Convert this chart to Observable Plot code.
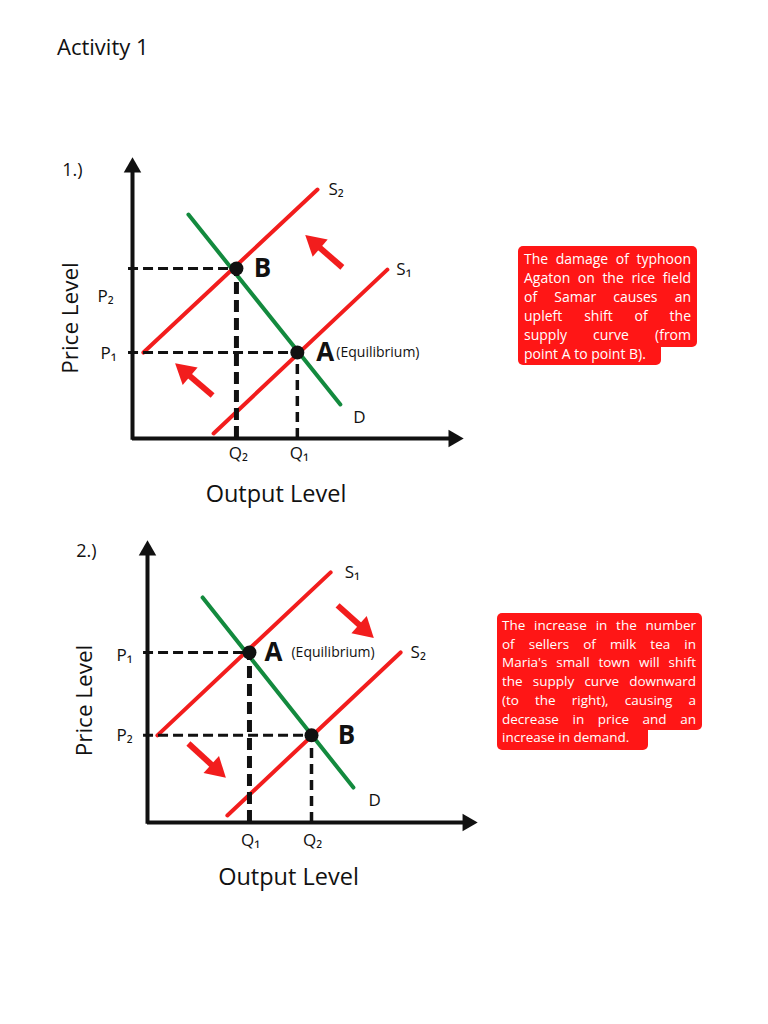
<!DOCTYPE html>
<html>
<head>
<meta charset="utf-8">
<script src="https://cdn.jsdelivr.net/npm/d3@7"></script>
<script src="https://cdn.jsdelivr.net/npm/@observablehq/plot@0.6"></script>
<style>
  body { margin: 0; background: #fff; }
  #page { position: relative; width: 768px; height: 1024px; overflow: hidden; font-family: "Open Sans", sans-serif; color: #111; }
  .title { position: absolute; left: 57px; top: 31px; font-size: 22px; }
  .chart { position: absolute; }
  .box { position: absolute; }
  .box .bg { position: absolute; background: #ff1616; }
  .box .txt { position: absolute; color: #fff; }
  .box .ln { text-align: justify; text-align-last: justify; white-space: nowrap; }
  .box .ln.last { text-align: left; text-align-last: left; }
</style>
</head>
<body>
<div id="page">
  <div class="title">Activity 1</div>
  <div class="chart" id="chart1" style="left:40px;top:140px;"></div>
  <div class="chart" id="chart2" style="left:50px;top:525px;"></div>

  <div class="box" style="left:518px;top:246px;">
    <div class="bg" style="left:0;top:0;width:179px;height:101px;border-radius:5px 5px 5px 0;"></div>
    <div class="bg" style="left:0;top:94px;width:143px;height:25px;border-radius:0 0 5px 5px;"></div>
    <div class="txt" id="text1" style="left:6px;top:3px;width:167px;font-size:14px;line-height:19px;"></div>
  </div>

  <div class="box" style="left:497px;top:613px;">
    <div class="bg" style="left:0;top:0;width:205px;height:117px;border-radius:5px 5px 5px 0;"></div>
    <div class="bg" style="left:0;top:110px;width:151px;height:27px;border-radius:0 0 5px 5px;"></div>
    <div class="txt" id="text2" style="left:5px;top:3px;width:194px;font-size:13.5px;line-height:18.7px;"></div>
  </div>
</div>
<script>
// ---------- Diagram 1 data (quantity q, price p) ----------
const d1SupplyOld = [{q: 2.45, p: 0.18}, {q: 7.70, p: 6.01}];   // S1
const d1SupplyNew = [{q: 0.33, p: 3.06}, {q: 5.59, p: 8.86}];   // S2
const d1Demand    = [{q: 1.69, p: 7.97}, {q: 6.28, p: 1.21}];   // D
const d1Points    = [{name: "A", q: 4.98, p: 3.06}, {name: "B", q: 3.14, p: 6.05}];
const d1PriceTicks = [{label: "P₁", p: 3.06}, {label: "P₂", p: 6.05}];
const d1QtyTicks   = [{label: "Q₁", q: 4.98}, {label: "Q₂", q: 3.14}];
const d1Shifts = [
  {q1: 6.34, p1: 6.09, q2: 5.52, p2: 6.93},
  {q1: 2.42, p1: 1.53, q2: 1.59, p2: 2.37}
];
const d1CurveNames = ["S₁", "S₂", "D"];
const d1Text = [
  "The damage of typhoon",
  "Agaton on the rice field",
  "of Samar causes an",
  "upleft shift of the",
  "supply curve (from",
  "point A to point B)."
];

// ---------- Diagram 2 data ----------
const d2SupplyOld = [{q: 0.30, p: 3.09}, {q: 5.55, p: 8.87}];   // S1
const d2SupplyNew = [{q: 2.42, p: 0.25}, {q: 7.67, p: 6.03}];   // S2
const d2Demand    = [{q: 1.67, p: 7.98}, {q: 6.24, p: 1.24}];   // D
const d2Points    = [{name: "A", q: 3.09, p: 6.03}, {name: "B", q: 4.97, p: 3.09}];
const d2PriceTicks = [{label: "P₁", p: 6.03}, {label: "P₂", p: 3.09}];
const d2QtyTicks   = [{label: "Q₁", q: 3.09}, {label: "Q₂", q: 4.97}];
const d2Shifts = [
  {q1: 5.76, p1: 7.70, q2: 6.56, p2: 6.86},
  {q1: 1.24, p1: 2.80, q2: 2.08, p2: 1.90}
];
const d2CurveNames = ["S₁", "S₂", "D"];
const d2Text = [
  "The increase in the number",
  "of sellers of milk tea in",
  "Maria's small town will shift",
  "the supply curve downward",
  "(to the right), causing a",
  "decrease in price and an",
  "increase in demand."
];

const axisTitles = {y: "Price Level", x: "Output Level"};
const domain = [0, 10];
const axisEnd = {q: 9.7, p: 9.65};

const RED = "#f21d1d", GREEN = "#138a3e", INK = "#111";
const FONT = "Open Sans, sans-serif";

function diagram(c) {
  const sx = Plot.scale({x: {domain, range: [c.ml, c.W - c.mr]}});
  const sy = Plot.scale({y: {domain, range: [c.H - c.mb, c.mt]}});
  const rot = d => Math.atan2(sx.apply(d.q2) - sx.apply(d.q1), -(sy.apply(d.p2) - sy.apply(d.p1))) * 180 / Math.PI;
  const thick = c.points.find(d => d.name === c.thickQ);
  const thin = c.points.find(d => d.name !== c.thickQ);
  const A = c.points.filter(d => d.name === "A");
  const B = c.points.filter(d => d.name === "B");
  const curves = [
    {name: c.names[0], end: c.s1[1], lab: c.lab[0]},
    {name: c.names[1], end: c.s2[1], lab: c.lab[1]},
    {name: c.names[2], end: c.dem[1], lab: c.lab[2]}
  ];
  const txt = {fill: INK, fontFamily: FONT};
  return Plot.plot({
    width: c.W, height: c.H,
    marginLeft: c.ml, marginRight: c.mr, marginTop: c.mt, marginBottom: c.mb,
    x: {domain, axis: null},
    y: {domain, axis: null},
    style: {background: "transparent", overflow: "visible", fontFamily: FONT},
    marks: [
      // supply & demand curves
      Plot.line(c.s1, {x: "q", y: "p", stroke: RED, strokeWidth: 4}),
      Plot.line(c.s2, {x: "q", y: "p", stroke: RED, strokeWidth: 4}),
      Plot.line(c.dem, {x: "q", y: "p", stroke: GREEN, strokeWidth: 4}),
      // dashed guides
      Plot.ruleY(c.points, {y: "p", x1: -0.12, x2: "q", stroke: INK, strokeWidth: 3, strokeDasharray: "10,5"}),
      Plot.ruleX([thick], {x: "q", y1: 0, y2: "p", stroke: INK, strokeWidth: 5, strokeDasharray: "12,6"}),
      Plot.ruleX([thin], {x: "q", y1: 0, y2: "p", stroke: INK, strokeWidth: 3.5, strokeDasharray: "10,6"}),
      // axes with arrow heads
      Plot.ruleY([0], {x1: 0, x2: axisEnd.q, stroke: INK, strokeWidth: 4}),
      Plot.ruleX([0], {y1: -0.06, y2: axisEnd.p, stroke: INK, strokeWidth: 4}),
      Plot.dot([0], {x: axisEnd.q, y: 0, symbol: "triangle", r: 6.5, fill: INK, stroke: "none", rotate: 90}),
      Plot.dot([0], {x: 0, y: axisEnd.p, symbol: "triangle", r: 6.5, fill: INK, stroke: "none"}),
      // shift arrows
      Plot.link(c.shifts, {x1: "q1", y1: "p1", x2: "q2", y2: "p2", stroke: RED, strokeWidth: 6}),
      Plot.dot(c.shifts, {x: "q2", y: "p2", symbol: "triangle", r: 8.5, fill: RED, stroke: "none", rotate: rot}),
      // equilibrium points
      Plot.dot(c.points, {x: "q", y: "p", r: 7, fill: INK}),
      Plot.text(A, {x: "q", y: "p", text: "name", dx: c.aDx, fontSize: 26, fontWeight: "bold", ...txt}),
      Plot.text(B, {x: "q", y: "p", text: "name", dx: c.bDx, fontSize: 26, fontWeight: "bold", ...txt}),
      Plot.text(A, {x: "q", y: "p", text: () => "(Equilibrium)", dx: c.eqDx, textAnchor: "start", fontSize: 14, ...txt}),
      // curve labels
      ...curves.map(cv => Plot.text([cv.end], {x: "q", y: "p", text: () => cv.name, dx: cv.lab[0], dy: cv.lab[1], textAnchor: "start", fontSize: 17, ...txt})),
      // price / quantity labels
      ...c.priceTicks.map((t, i) => Plot.text([t], {x: 0, y: "p", text: "label", dx: c.pOff[i][0], dy: c.pOff[i][1], fontSize: 17, ...txt})),
      Plot.text(c.qtyTicks, {x: "q", y: 0, text: "label", dx: c.qDx, dy: c.qDy, fontSize: 17, ...txt}),
      // titles
      Plot.text([c.number], {frameAnchor: "top-left", text: d => d, dx: c.numOff[0], dy: c.numOff[1], textAnchor: "middle", lineAnchor: "middle", fontSize: 18, ...txt}),
      Plot.text([axisTitles.y], {frameAnchor: "left", text: d => d, rotate: -90, dx: c.yOff[0], dy: c.yOff[1], textAnchor: "middle", lineAnchor: "middle", fontSize: 22.5, ...txt}),
      Plot.text([axisTitles.x], {frameAnchor: "bottom", text: d => d, dx: c.xOff[0], dy: c.xOff[1], textAnchor: "middle", lineAnchor: "middle", fontSize: 23.5, ...txt})
    ]
  });
}

document.getElementById("chart1").appendChild(diagram({
  W: 440, H: 380, ml: 92, mr: 17, mt: 17, mb: 82,
  s1: d1SupplyOld, s2: d1SupplyNew, dem: d1Demand, points: d1Points,
  priceTicks: d1PriceTicks, qtyTicks: d1QtyTicks, shifts: d1Shifts, names: d1CurveNames,
  thickQ: "B", lab: [[9, 0], [11, 0], [13, 13]],
  aDx: 28, bDx: 26, eqDx: 39,
  pOff: [[-24, 1], [-27, 28]], qDx: 2, qDy: 15,
  number: "1.)", numOff: [-60, 13], yOff: [-62, 20], xOff: [-22, 56]
}));

document.getElementById("chart2").appendChild(diagram({
  W: 440, H: 380, ml: 97, mr: 13, mt: 15, mb: 83,
  s1: d2SupplyOld, s2: d2SupplyNew, dem: d2Demand, points: d2Points,
  priceTicks: d2PriceTicks, qtyTicks: d2QtyTicks, shifts: d2Shifts, names: d2CurveNames,
  thickQ: "A", lab: [[14, 0], [10, 0], [15, 13]],
  aDx: 24, bDx: 35, eqDx: 42,
  pOff: [[-23, 3], [-23, 0]], qDx: 1, qDy: 18,
  number: "2.)", numOff: [-61, 11], yOff: [-63, 19], xOff: [-24, 55]
}));

function fillText(id, lines) {
  const el = document.getElementById(id);
  lines.forEach((s, i) => {
    const d = document.createElement("div");
    d.className = "ln" + (i === lines.length - 1 ? " last" : "");
    d.textContent = s;
    el.appendChild(d);
  });
}
fillText("text1", d1Text);
fillText("text2", d2Text);
</script>
</body>
</html>
